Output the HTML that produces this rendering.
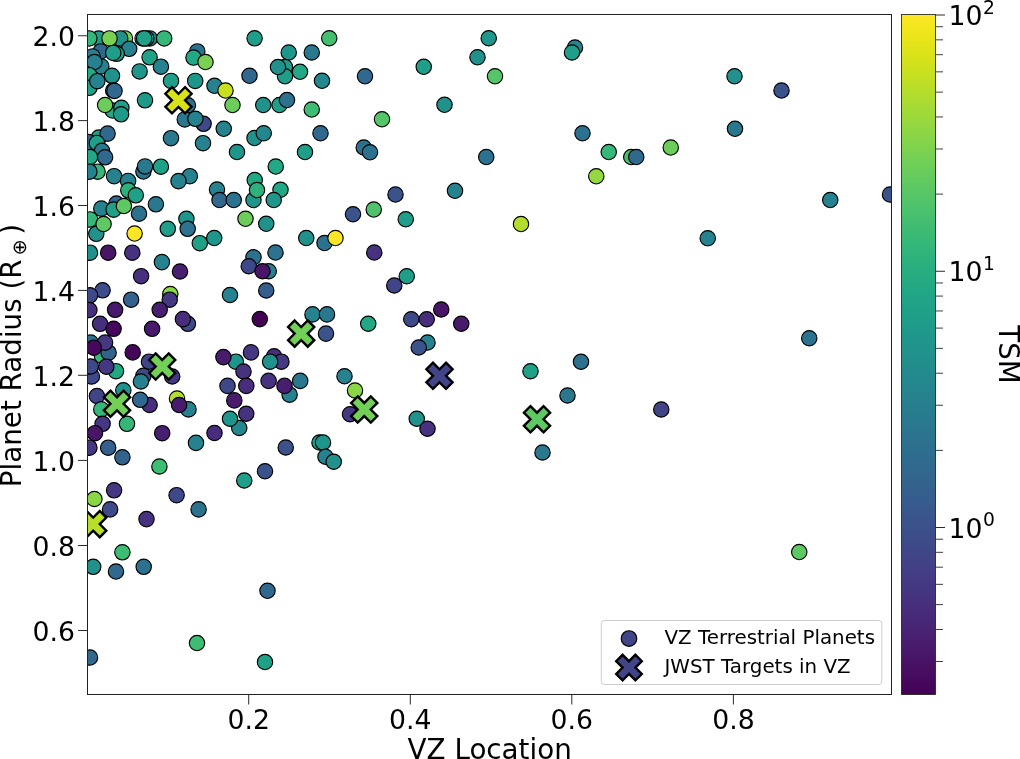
<!DOCTYPE html>
<html><head><meta charset="utf-8"><title>VZ Terrestrial Planets</title>
<style>html,body{margin:0;padding:0;background:#fff}svg{display:block}text{font-family:"DejaVu Sans","Liberation Sans",sans-serif;fill:#000}</style></head><body>
<svg width="1020" height="759" viewBox="0 0 1020 759">
<defs><clipPath id="ax"><rect x="87.50" y="14.50" width="804.00" height="680.00"/></clipPath>
<linearGradient id="vir" x1="0" y1="0" x2="0" y2="1"><stop offset="0.0000" stop-color="#fde725"/><stop offset="0.0312" stop-color="#ece51b"/><stop offset="0.0625" stop-color="#d8e219"/><stop offset="0.0938" stop-color="#c2df23"/><stop offset="0.1250" stop-color="#addc30"/><stop offset="0.1562" stop-color="#98d83e"/><stop offset="0.1875" stop-color="#84d44b"/><stop offset="0.2188" stop-color="#70cf57"/><stop offset="0.2500" stop-color="#5ec962"/><stop offset="0.2812" stop-color="#4ec36b"/><stop offset="0.3125" stop-color="#3fbc73"/><stop offset="0.3438" stop-color="#32b67a"/><stop offset="0.3750" stop-color="#28ae80"/><stop offset="0.4062" stop-color="#22a785"/><stop offset="0.4375" stop-color="#1fa088"/><stop offset="0.4688" stop-color="#1f988b"/><stop offset="0.5000" stop-color="#21918c"/><stop offset="0.5312" stop-color="#23898e"/><stop offset="0.5625" stop-color="#26828e"/><stop offset="0.5938" stop-color="#297a8e"/><stop offset="0.6250" stop-color="#2c728e"/><stop offset="0.6562" stop-color="#2f6b8e"/><stop offset="0.6875" stop-color="#33638d"/><stop offset="0.7188" stop-color="#375b8d"/><stop offset="0.7500" stop-color="#3b528b"/><stop offset="0.7812" stop-color="#3e4989"/><stop offset="0.8125" stop-color="#424086"/><stop offset="0.8438" stop-color="#453781"/><stop offset="0.8750" stop-color="#472d7b"/><stop offset="0.9062" stop-color="#482374"/><stop offset="0.9375" stop-color="#48186a"/><stop offset="0.9688" stop-color="#470d60"/><stop offset="1.0000" stop-color="#440154"/></linearGradient></defs>
<rect width="1020" height="759" fill="#fff"/>
<g clip-path="url(#ax)"><g stroke="#000" stroke-width="1.15">
<circle cx="98.80" cy="38.60" r="7.70" fill="#1f9e89"/>
<circle cx="89.30" cy="38.40" r="7.70" fill="#35b779"/>
<circle cx="124.90" cy="38.40" r="7.70" fill="#7ad151"/>
<circle cx="120.20" cy="38.40" r="7.70" fill="#21918c"/>
<circle cx="109.50" cy="38.40" r="7.70" fill="#7ad151"/>
<circle cx="142.60" cy="38.40" r="7.70" fill="#1f968b"/>
<circle cx="149.80" cy="38.40" r="7.70" fill="#26828e"/>
<circle cx="146.30" cy="38.40" r="7.70" fill="#22a884"/>
<circle cx="144.20" cy="38.40" r="7.70" fill="#1fa187"/>
<circle cx="164.20" cy="38.40" r="7.70" fill="#35b779"/>
<circle cx="100.70" cy="51.40" r="7.70" fill="#31688e"/>
<circle cx="129.20" cy="48.80" r="7.70" fill="#26828e"/>
<circle cx="116.70" cy="53.80" r="7.70" fill="#1fa187"/>
<circle cx="113.20" cy="52.90" r="7.70" fill="#1f9e89"/>
<circle cx="92.50" cy="56.40" r="7.70" fill="#26828e"/>
<circle cx="101.30" cy="66.40" r="7.70" fill="#26828e"/>
<circle cx="94.40" cy="62.00" r="7.70" fill="#26828e"/>
<circle cx="89.40" cy="75.20" r="7.70" fill="#22a884"/>
<circle cx="112.00" cy="75.80" r="7.70" fill="#21918c"/>
<circle cx="89.40" cy="87.80" r="7.70" fill="#1fa187"/>
<circle cx="97.30" cy="81.20" r="7.70" fill="#26828e"/>
<circle cx="113.20" cy="90.50" r="7.70" fill="#31688e"/>
<circle cx="114.50" cy="90.90" r="7.70" fill="#31688e"/>
<circle cx="149.60" cy="57.30" r="7.70" fill="#1fa187"/>
<circle cx="160.90" cy="66.70" r="7.70" fill="#26828e"/>
<circle cx="139.60" cy="71.40" r="7.70" fill="#1f968b"/>
<circle cx="171.00" cy="80.90" r="7.70" fill="#1f9e89"/>
<circle cx="195.20" cy="80.90" r="7.70" fill="#1f968b"/>
<circle cx="197.30" cy="51.40" r="7.70" fill="#2c728e"/>
<circle cx="193.50" cy="57.60" r="7.70" fill="#22a884"/>
<circle cx="205.50" cy="62.00" r="7.70" fill="#7ad151"/>
<circle cx="145.00" cy="100.30" r="7.70" fill="#1f998a"/>
<circle cx="112.60" cy="110.50" r="7.70" fill="#22a884"/>
<circle cx="105.10" cy="105.00" r="7.70" fill="#6ccd5a"/>
<circle cx="121.40" cy="107.80" r="7.70" fill="#1fa187"/>
<circle cx="121.10" cy="114.30" r="7.70" fill="#1f998a"/>
<circle cx="187.90" cy="105.30" r="7.70" fill="#2c728e"/>
<circle cx="214.50" cy="85.75" r="7.70" fill="#26828e"/>
<circle cx="225.50" cy="90.50" r="7.70" fill="#c8e020"/>
<circle cx="232.50" cy="105.00" r="7.70" fill="#6ccd5a"/>
<circle cx="249.50" cy="75.75" r="7.70" fill="#31688e"/>
<circle cx="254.60" cy="38.30" r="7.70" fill="#1f9e89"/>
<circle cx="223.75" cy="128.75" r="7.70" fill="#26828e"/>
<circle cx="237.00" cy="152.00" r="7.70" fill="#1f968b"/>
<circle cx="254.50" cy="138.00" r="7.70" fill="#21918c"/>
<circle cx="254.75" cy="180.00" r="7.70" fill="#22a884"/>
<circle cx="217.00" cy="189.50" r="7.70" fill="#26828e"/>
<circle cx="184.80" cy="119.40" r="7.70" fill="#2a788e"/>
<circle cx="203.60" cy="123.80" r="7.70" fill="#3e4989"/>
<circle cx="195.40" cy="118.80" r="7.70" fill="#26828e"/>
<circle cx="171.00" cy="138.20" r="7.70" fill="#2a788e"/>
<circle cx="203.00" cy="143.20" r="7.70" fill="#26828e"/>
<circle cx="98.80" cy="137.60" r="7.70" fill="#1fa187"/>
<circle cx="107.60" cy="133.60" r="7.70" fill="#31688e"/>
<circle cx="88.80" cy="142.00" r="7.70" fill="#31688e"/>
<circle cx="96.90" cy="142.90" r="7.70" fill="#1f9e89"/>
<circle cx="102.00" cy="150.80" r="7.70" fill="#2a788e"/>
<circle cx="105.10" cy="157.30" r="7.70" fill="#31688e"/>
<circle cx="90.00" cy="157.00" r="7.70" fill="#22a884"/>
<circle cx="97.60" cy="171.70" r="7.70" fill="#35b779"/>
<circle cx="89.40" cy="171.70" r="7.70" fill="#26828e"/>
<circle cx="114.10" cy="176.20" r="7.70" fill="#26828e"/>
<circle cx="128.10" cy="180.90" r="7.70" fill="#26828e"/>
<circle cx="128.30" cy="190.30" r="7.70" fill="#2db27d"/>
<circle cx="135.80" cy="195.30" r="7.70" fill="#1fa187"/>
<circle cx="143.40" cy="171.50" r="7.70" fill="#2c728e"/>
<circle cx="145.00" cy="166.40" r="7.70" fill="#2a788e"/>
<circle cx="160.90" cy="166.70" r="7.70" fill="#1fa187"/>
<circle cx="189.80" cy="176.20" r="7.70" fill="#26828e"/>
<circle cx="178.50" cy="181.10" r="7.70" fill="#26828e"/>
<circle cx="116.40" cy="203.50" r="7.70" fill="#31688e"/>
<circle cx="101.30" cy="208.60" r="7.70" fill="#26828e"/>
<circle cx="113.60" cy="209.60" r="7.70" fill="#1fa187"/>
<circle cx="123.90" cy="206.00" r="7.70" fill="#5ec962"/>
<circle cx="155.90" cy="204.30" r="7.70" fill="#2a788e"/>
<circle cx="139.00" cy="213.70" r="7.70" fill="#2c728e"/>
<circle cx="186.40" cy="218.80" r="7.70" fill="#1f968b"/>
<circle cx="187.70" cy="228.80" r="7.70" fill="#2c728e"/>
<circle cx="167.80" cy="228.80" r="7.70" fill="#1f9e89"/>
<circle cx="199.80" cy="243.20" r="7.70" fill="#1fa187"/>
<circle cx="214.25" cy="238.00" r="7.70" fill="#1f968b"/>
<circle cx="90.00" cy="219.40" r="7.70" fill="#35b779"/>
<circle cx="96.30" cy="233.80" r="7.70" fill="#21918c"/>
<circle cx="103.60" cy="224.00" r="7.70" fill="#5ec962"/>
<circle cx="134.60" cy="233.50" r="7.70" fill="#fde725"/>
<circle cx="90.00" cy="252.70" r="7.70" fill="#21918c"/>
<circle cx="108.20" cy="252.70" r="7.70" fill="#481567"/>
<circle cx="132.30" cy="252.70" r="7.70" fill="#46327e"/>
<circle cx="161.90" cy="262.10" r="7.70" fill="#26828e"/>
<circle cx="180.00" cy="271.50" r="7.70" fill="#481f70"/>
<circle cx="141.10" cy="276.20" r="7.70" fill="#46307e"/>
<circle cx="102.60" cy="290.30" r="7.70" fill="#3e4c8a"/>
<circle cx="90.00" cy="295.30" r="7.70" fill="#3e4989"/>
<circle cx="131.10" cy="299.70" r="7.70" fill="#33638d"/>
<circle cx="170.30" cy="294.10" r="7.70" fill="#8bd646"/>
<circle cx="169.70" cy="299.70" r="7.70" fill="#453781"/>
<circle cx="219.50" cy="200.00" r="7.70" fill="#31688e"/>
<circle cx="233.75" cy="200.00" r="7.70" fill="#2c728e"/>
<circle cx="253.50" cy="200.00" r="7.70" fill="#1f968b"/>
<circle cx="245.50" cy="218.75" r="7.70" fill="#6ccd5a"/>
<circle cx="253.50" cy="257.25" r="7.70" fill="#2c728e"/>
<circle cx="248.75" cy="266.25" r="7.70" fill="#3e4989"/>
<circle cx="230.00" cy="295.00" r="7.70" fill="#26828e"/>
<circle cx="89.40" cy="310.00" r="7.70" fill="#46307e"/>
<circle cx="115.10" cy="309.80" r="7.70" fill="#481a6c"/>
<circle cx="159.70" cy="309.80" r="7.70" fill="#481f70"/>
<circle cx="187.90" cy="323.80" r="7.70" fill="#3e4989"/>
<circle cx="182.90" cy="319.10" r="7.70" fill="#472d7b"/>
<circle cx="100.10" cy="323.80" r="7.70" fill="#46307e"/>
<circle cx="113.60" cy="328.80" r="7.70" fill="#46085c"/>
<circle cx="152.10" cy="328.80" r="7.70" fill="#481a6c"/>
<circle cx="102.00" cy="356.00" r="7.70" fill="#35b779"/>
<circle cx="90.70" cy="342.60" r="7.70" fill="#2c728e"/>
<circle cx="108.60" cy="352.70" r="7.70" fill="#33638d"/>
<circle cx="105.10" cy="342.60" r="7.70" fill="#453781"/>
<circle cx="93.80" cy="347.70" r="7.70" fill="#46085c"/>
<circle cx="132.70" cy="352.40" r="7.70" fill="#450559"/>
<circle cx="91.90" cy="376.50" r="7.70" fill="#3e4989"/>
<circle cx="90.70" cy="366.50" r="7.70" fill="#3e4989"/>
<circle cx="116.00" cy="371.20" r="7.70" fill="#22a884"/>
<circle cx="106.30" cy="366.70" r="7.70" fill="#453781"/>
<circle cx="149.00" cy="361.70" r="7.70" fill="#414487"/>
<circle cx="172.20" cy="376.50" r="7.70" fill="#453781"/>
<circle cx="143.40" cy="375.90" r="7.70" fill="#3e4989"/>
<circle cx="140.90" cy="381.50" r="7.70" fill="#26828e"/>
<circle cx="123.30" cy="390.30" r="7.70" fill="#21918c"/>
<circle cx="96.90" cy="396.00" r="7.70" fill="#414487"/>
<circle cx="259.80" cy="319.10" r="7.70" fill="#440154"/>
<circle cx="312.50" cy="314.40" r="7.70" fill="#26828e"/>
<circle cx="327.00" cy="314.40" r="7.70" fill="#2a788e"/>
<circle cx="326.00" cy="333.60" r="7.70" fill="#3b528b"/>
<circle cx="235.90" cy="361.70" r="7.70" fill="#1f968b"/>
<circle cx="223.40" cy="357.10" r="7.70" fill="#481b6d"/>
<circle cx="251.00" cy="352.40" r="7.70" fill="#453781"/>
<circle cx="243.50" cy="371.50" r="7.70" fill="#46327e"/>
<circle cx="274.10" cy="356.40" r="7.70" fill="#472d7b"/>
<circle cx="281.40" cy="361.70" r="7.70" fill="#453781"/>
<circle cx="270.10" cy="361.70" r="7.70" fill="#21918c"/>
<circle cx="227.50" cy="385.90" r="7.70" fill="#3e4989"/>
<circle cx="246.30" cy="385.90" r="7.70" fill="#472d7b"/>
<circle cx="268.60" cy="380.90" r="7.70" fill="#46327e"/>
<circle cx="300.20" cy="380.90" r="7.70" fill="#2a788e"/>
<circle cx="289.60" cy="394.70" r="7.70" fill="#26828e"/>
<circle cx="284.50" cy="385.90" r="7.70" fill="#481f70"/>
<circle cx="234.30" cy="400.40" r="7.70" fill="#481b6d"/>
<circle cx="101.30" cy="409.40" r="7.70" fill="#35b779"/>
<circle cx="149.60" cy="405.00" r="7.70" fill="#472d7b"/>
<circle cx="140.20" cy="399.80" r="7.70" fill="#31688e"/>
<circle cx="177.00" cy="398.50" r="7.70" fill="#b2dd2d"/>
<circle cx="188.50" cy="409.40" r="7.70" fill="#26828e"/>
<circle cx="179.10" cy="405.00" r="7.70" fill="#481b6d"/>
<circle cx="102.60" cy="423.80" r="7.70" fill="#453781"/>
<circle cx="127.00" cy="423.80" r="7.70" fill="#35b779"/>
<circle cx="95.00" cy="433.20" r="7.70" fill="#481567"/>
<circle cx="162.20" cy="433.20" r="7.70" fill="#481f70"/>
<circle cx="89.40" cy="447.70" r="7.70" fill="#453781"/>
<circle cx="108.20" cy="447.70" r="7.70" fill="#355f8d"/>
<circle cx="122.40" cy="457.30" r="7.70" fill="#33638d"/>
<circle cx="196.00" cy="442.90" r="7.70" fill="#26828e"/>
<circle cx="214.50" cy="433.00" r="7.70" fill="#472d7b"/>
<circle cx="159.40" cy="466.50" r="7.70" fill="#3dbc74"/>
<circle cx="114.10" cy="490.30" r="7.70" fill="#453781"/>
<circle cx="94.40" cy="499.00" r="7.70" fill="#8bd646"/>
<circle cx="176.60" cy="495.20" r="7.70" fill="#3e4989"/>
<circle cx="246.25" cy="413.75" r="7.70" fill="#46327e"/>
<circle cx="239.25" cy="428.00" r="7.70" fill="#23888e"/>
<circle cx="230.00" cy="418.75" r="7.70" fill="#1f968b"/>
<circle cx="244.25" cy="480.50" r="7.70" fill="#1f9e89"/>
<circle cx="110.10" cy="509.40" r="7.70" fill="#3e4989"/>
<circle cx="198.60" cy="509.40" r="7.70" fill="#2c728e"/>
<circle cx="146.50" cy="519.10" r="7.70" fill="#46327e"/>
<circle cx="122.40" cy="552.30" r="7.70" fill="#3dbc74"/>
<circle cx="93.20" cy="566.80" r="7.70" fill="#21918c"/>
<circle cx="116.00" cy="571.50" r="7.70" fill="#31688e"/>
<circle cx="143.70" cy="566.80" r="7.70" fill="#2c728e"/>
<circle cx="90.00" cy="657.50" r="7.70" fill="#31688e"/>
<circle cx="197.00" cy="643.00" r="7.70" fill="#3dbc74"/>
<circle cx="267.50" cy="590.75" r="7.70" fill="#31688e"/>
<circle cx="265.00" cy="662.00" r="7.70" fill="#1fa187"/>
<circle cx="329.25" cy="38.25" r="7.70" fill="#44bf70"/>
<circle cx="288.75" cy="52.50" r="7.70" fill="#1f968b"/>
<circle cx="311.75" cy="52.50" r="7.70" fill="#2a788e"/>
<circle cx="285.00" cy="67.00" r="7.70" fill="#1f9e89"/>
<circle cx="285.00" cy="76.25" r="7.70" fill="#1f9e89"/>
<circle cx="278.00" cy="67.00" r="7.70" fill="#21918c"/>
<circle cx="300.00" cy="71.75" r="7.70" fill="#22a884"/>
<circle cx="322.00" cy="80.75" r="7.70" fill="#23888e"/>
<circle cx="365.00" cy="76.25" r="7.70" fill="#31688e"/>
<circle cx="423.75" cy="66.75" r="7.70" fill="#1f9e89"/>
<circle cx="488.75" cy="38.25" r="7.70" fill="#1f968b"/>
<circle cx="477.50" cy="57.25" r="7.70" fill="#21918c"/>
<circle cx="495.00" cy="76.25" r="7.70" fill="#54c568"/>
<circle cx="444.50" cy="104.75" r="7.70" fill="#21918c"/>
<circle cx="382.00" cy="119.25" r="7.70" fill="#54c568"/>
<circle cx="263.25" cy="105.00" r="7.70" fill="#21918c"/>
<circle cx="279.50" cy="105.00" r="7.70" fill="#1f9e89"/>
<circle cx="287.00" cy="100.00" r="7.70" fill="#2c728e"/>
<circle cx="311.75" cy="109.50" r="7.70" fill="#3dbc74"/>
<circle cx="263.75" cy="133.25" r="7.70" fill="#23888e"/>
<circle cx="320.50" cy="133.25" r="7.70" fill="#31688e"/>
<circle cx="305.00" cy="152.00" r="7.70" fill="#1f9e89"/>
<circle cx="363.75" cy="147.50" r="7.70" fill="#2c728e"/>
<circle cx="370.00" cy="152.25" r="7.70" fill="#2c728e"/>
<circle cx="486.25" cy="157.00" r="7.70" fill="#2c728e"/>
<circle cx="275.75" cy="166.50" r="7.70" fill="#22a884"/>
<circle cx="257.00" cy="190.00" r="7.70" fill="#2db27d"/>
<circle cx="280.50" cy="189.75" r="7.70" fill="#22a884"/>
<circle cx="395.50" cy="194.50" r="7.70" fill="#3b528b"/>
<circle cx="455.00" cy="190.75" r="7.70" fill="#26828e"/>
<circle cx="273.75" cy="200.00" r="7.70" fill="#1f968b"/>
<circle cx="373.75" cy="209.50" r="7.70" fill="#4ec36b"/>
<circle cx="353.00" cy="214.25" r="7.70" fill="#3b528b"/>
<circle cx="405.75" cy="219.25" r="7.70" fill="#1f9e89"/>
<circle cx="266.25" cy="223.75" r="7.70" fill="#21918c"/>
<circle cx="306.25" cy="238.00" r="7.70" fill="#21918c"/>
<circle cx="324.50" cy="243.00" r="7.70" fill="#2c728e"/>
<circle cx="335.50" cy="238.00" r="7.70" fill="#fde725"/>
<circle cx="374.25" cy="252.50" r="7.70" fill="#46327e"/>
<circle cx="275.50" cy="252.50" r="7.70" fill="#2c728e"/>
<circle cx="268.75" cy="271.25" r="7.70" fill="#26828e"/>
<circle cx="262.50" cy="271.25" r="7.70" fill="#481567"/>
<circle cx="266.25" cy="290.50" r="7.70" fill="#355f8d"/>
<circle cx="406.75" cy="276.25" r="7.70" fill="#1f9e89"/>
<circle cx="394.25" cy="285.50" r="7.70" fill="#414487"/>
<circle cx="368.25" cy="323.75" r="7.70" fill="#22a884"/>
<circle cx="411.25" cy="319.25" r="7.70" fill="#3e4989"/>
<circle cx="426.75" cy="319.25" r="7.70" fill="#472d7b"/>
<circle cx="441.25" cy="309.50" r="7.70" fill="#481467"/>
<circle cx="461.25" cy="323.75" r="7.70" fill="#481a6c"/>
<circle cx="427.50" cy="342.50" r="7.70" fill="#26828e"/>
<circle cx="418.75" cy="347.50" r="7.70" fill="#3b528b"/>
<circle cx="344.50" cy="376.25" r="7.70" fill="#26828e"/>
<circle cx="355.00" cy="390.50" r="7.70" fill="#8bd646"/>
<circle cx="350.00" cy="414.25" r="7.70" fill="#453781"/>
<circle cx="416.75" cy="418.75" r="7.70" fill="#21918c"/>
<circle cx="427.50" cy="428.75" r="7.70" fill="#46327e"/>
<circle cx="285.75" cy="447.50" r="7.70" fill="#3b528b"/>
<circle cx="319.50" cy="442.50" r="7.70" fill="#1fa187"/>
<circle cx="323.00" cy="442.50" r="7.70" fill="#1f968b"/>
<circle cx="325.50" cy="456.75" r="7.70" fill="#26828e"/>
<circle cx="333.75" cy="461.75" r="7.70" fill="#21918c"/>
<circle cx="265.00" cy="471.25" r="7.70" fill="#3b528b"/>
<circle cx="575.00" cy="47.50" r="7.70" fill="#26828e"/>
<circle cx="572.00" cy="52.50" r="7.70" fill="#1f9e89"/>
<circle cx="734.50" cy="76.25" r="7.70" fill="#21918c"/>
<circle cx="735.00" cy="128.75" r="7.70" fill="#2a788e"/>
<circle cx="582.50" cy="133.25" r="7.70" fill="#2c728e"/>
<circle cx="608.75" cy="152.00" r="7.70" fill="#35b779"/>
<circle cx="631.25" cy="157.00" r="7.70" fill="#44bf70"/>
<circle cx="636.25" cy="157.00" r="7.70" fill="#31688e"/>
<circle cx="670.75" cy="147.50" r="7.70" fill="#6ccd5a"/>
<circle cx="596.25" cy="176.25" r="7.70" fill="#95d840"/>
<circle cx="781.50" cy="90.50" r="7.70" fill="#3b528b"/>
<circle cx="890.00" cy="194.50" r="7.70" fill="#3b528b"/>
<circle cx="521.00" cy="224.00" r="7.70" fill="#b2dd2d"/>
<circle cx="707.75" cy="238.25" r="7.70" fill="#26828e"/>
<circle cx="581.00" cy="361.75" r="7.70" fill="#2c728e"/>
<circle cx="530.50" cy="371.25" r="7.70" fill="#1fa187"/>
<circle cx="830.25" cy="200.00" r="7.70" fill="#26828e"/>
<circle cx="809.25" cy="338.25" r="7.70" fill="#2c728e"/>
<circle cx="567.50" cy="395.50" r="7.70" fill="#2a788e"/>
<circle cx="661.25" cy="409.50" r="7.70" fill="#414487"/>
<circle cx="542.50" cy="452.50" r="7.70" fill="#2a788e"/>
<circle cx="799.25" cy="552.00" r="7.70" fill="#5ec962"/>
</g><g stroke="#000" stroke-width="2.40" stroke-linejoin="miter">
<path d="M171.95 87.20 L178.50 93.75 L185.05 87.20 L191.60 93.75 L185.05 100.30 L191.60 106.85 L185.05 113.40 L178.50 106.85 L171.95 113.40 L165.40 106.85 L171.95 100.30 L165.40 93.75Z" fill="#d8e219"/>
<path d="M155.65 353.40 L162.20 359.95 L168.75 353.40 L175.30 359.95 L168.75 366.50 L175.30 373.05 L168.75 379.60 L162.20 373.05 L155.65 379.60 L149.10 373.05 L155.65 366.50 L149.10 359.95Z" fill="#73d056"/>
<path d="M110.45 390.70 L117.00 397.25 L123.55 390.70 L130.10 397.25 L123.55 403.80 L130.10 410.35 L123.55 416.90 L117.00 410.35 L110.45 416.90 L103.90 410.35 L110.45 403.80 L103.90 397.25Z" fill="#73d056"/>
<path d="M86.65 511.00 L93.20 517.55 L99.75 511.00 L106.30 517.55 L99.75 524.10 L106.30 530.65 L99.75 537.20 L93.20 530.65 L86.65 537.20 L80.10 530.65 L86.65 524.10 L80.10 517.55Z" fill="#b8de29"/>
<path d="M294.65 320.50 L301.20 327.05 L307.75 320.50 L314.30 327.05 L307.75 333.60 L314.30 340.15 L307.75 346.70 L301.20 340.15 L294.65 346.70 L288.10 340.15 L294.65 333.60 L288.10 327.05Z" fill="#73d056"/>
<path d="M432.95 362.70 L439.50 369.25 L446.05 362.70 L452.60 369.25 L446.05 375.80 L452.60 382.35 L446.05 388.90 L439.50 382.35 L432.95 388.90 L426.40 382.35 L432.95 375.80 L426.40 369.25Z" fill="#414487"/>
<path d="M357.70 396.40 L364.25 402.95 L370.80 396.40 L377.35 402.95 L370.80 409.50 L377.35 416.05 L370.80 422.60 L364.25 416.05 L357.70 422.60 L351.15 416.05 L357.70 409.50 L351.15 402.95Z" fill="#73d056"/>
<path d="M530.45 406.15 L537.00 412.70 L543.55 406.15 L550.10 412.70 L543.55 419.25 L550.10 425.80 L543.55 432.35 L537.00 425.80 L530.45 432.35 L523.90 425.80 L530.45 419.25 L523.90 412.70Z" fill="#5ec962"/>
</g></g>
<rect x="87.50" y="14.50" width="804.00" height="680.00" fill="none" stroke="#222" stroke-width="1"/>
<g stroke="#2a2a2a" stroke-width="1">
<line x1="78.00" y1="35.75" x2="87.50" y2="35.75"/>
<line x1="78.00" y1="120.60" x2="87.50" y2="120.60"/>
<line x1="78.00" y1="205.50" x2="87.50" y2="205.50"/>
<line x1="78.00" y1="290.40" x2="87.50" y2="290.40"/>
<line x1="78.00" y1="375.30" x2="87.50" y2="375.30"/>
<line x1="78.00" y1="460.40" x2="87.50" y2="460.40"/>
<line x1="78.00" y1="545.50" x2="87.50" y2="545.50"/>
<line x1="78.00" y1="630.50" x2="87.50" y2="630.50"/>
<line x1="248.70" y1="694.50" x2="248.70" y2="704.50"/>
<line x1="410.30" y1="694.50" x2="410.30" y2="704.50"/>
<line x1="571.80" y1="694.50" x2="571.80" y2="704.50"/>
<line x1="733.40" y1="694.50" x2="733.40" y2="704.50"/>
</g>
<g font-size="26.70">
<text x="75" y="46.05" text-anchor="end">2.0</text>
<text x="75" y="130.90" text-anchor="end">1.8</text>
<text x="75" y="215.80" text-anchor="end">1.6</text>
<text x="75" y="300.70" text-anchor="end">1.4</text>
<text x="75" y="385.60" text-anchor="end">1.2</text>
<text x="75" y="470.70" text-anchor="end">1.0</text>
<text x="75" y="555.80" text-anchor="end">0.8</text>
<text x="75" y="640.80" text-anchor="end">0.6</text>
<text x="248.70" y="728.8" text-anchor="middle">0.2</text>
<text x="410.30" y="728.8" text-anchor="middle">0.4</text>
<text x="571.80" y="728.8" text-anchor="middle">0.6</text>
<text x="733.40" y="728.8" text-anchor="middle">0.8</text>
</g>
<text x="489.7" y="759.4" font-size="27.75" text-anchor="middle">VZ Location</text>
<text transform="translate(21.4 487.2) rotate(-90)" font-size="27.75">Planet Radius (R<tspan font-size="19.4" dy="4.3" dx="3.9">⊕</tspan><tspan dy="-4.3" dx="4.6">)</tspan></text>
<rect x="901.50" y="14.50" width="34.00" height="680.00" fill="url(#vir)" stroke="#222" stroke-width="0.85"/>
<g stroke="#2a2a2a" stroke-width="1">
<line x1="935.50" y1="15.00" x2="945.00" y2="15.00"/>
<line x1="935.50" y1="271.25" x2="945.00" y2="271.25"/>
<line x1="935.50" y1="527.50" x2="945.00" y2="527.50"/>
</g><g stroke="#2a2a2a" stroke-width="0.9">
<line x1="935.50" y1="194.11" x2="943.00" y2="194.11"/>
<line x1="935.50" y1="148.99" x2="943.00" y2="148.99"/>
<line x1="935.50" y1="116.97" x2="943.00" y2="116.97"/>
<line x1="935.50" y1="92.14" x2="943.00" y2="92.14"/>
<line x1="935.50" y1="71.85" x2="943.00" y2="71.85"/>
<line x1="935.50" y1="54.69" x2="943.00" y2="54.69"/>
<line x1="935.50" y1="39.83" x2="943.00" y2="39.83"/>
<line x1="935.50" y1="26.73" x2="943.00" y2="26.73"/>
<line x1="935.50" y1="450.36" x2="943.00" y2="450.36"/>
<line x1="935.50" y1="405.24" x2="943.00" y2="405.24"/>
<line x1="935.50" y1="373.22" x2="943.00" y2="373.22"/>
<line x1="935.50" y1="348.39" x2="943.00" y2="348.39"/>
<line x1="935.50" y1="328.10" x2="943.00" y2="328.10"/>
<line x1="935.50" y1="310.94" x2="943.00" y2="310.94"/>
<line x1="935.50" y1="296.08" x2="943.00" y2="296.08"/>
<line x1="935.50" y1="282.98" x2="943.00" y2="282.98"/>
<line x1="935.50" y1="661.49" x2="943.00" y2="661.49"/>
<line x1="935.50" y1="629.47" x2="943.00" y2="629.47"/>
<line x1="935.50" y1="604.64" x2="943.00" y2="604.64"/>
<line x1="935.50" y1="584.35" x2="943.00" y2="584.35"/>
<line x1="935.50" y1="567.19" x2="943.00" y2="567.19"/>
<line x1="935.50" y1="552.33" x2="943.00" y2="552.33"/>
<line x1="935.50" y1="539.23" x2="943.00" y2="539.23"/>
</g>
<text x="948.6" y="25.00" font-size="26.70">10<tspan font-size="18.7" dy="-11.1" dx="0.5">2</tspan></text>
<text x="948.6" y="281.25" font-size="26.70">10<tspan font-size="18.7" dy="-11.1" dx="0.5">1</tspan></text>
<text x="948.6" y="537.50" font-size="26.70">10<tspan font-size="18.7" dy="-11.1" dx="0.5">0</tspan></text>
<text transform="translate(999.3 354.5) rotate(90)" font-size="27.75" text-anchor="middle">TSM</text>
<rect x="601.3" y="620.5" width="280.5" height="64" rx="3" ry="3" fill="#fff" fill-opacity="0.8" stroke="#ccc" stroke-width="1"/>
<circle cx="629" cy="638.5" r="7.8" fill="#414487" stroke="#000" stroke-width="1.15"/>
<path d="M622.60 654.80 L629.00 661.20 L635.40 654.80 L641.80 661.20 L635.40 667.60 L641.80 674.00 L635.40 680.40 L629.00 674.00 L622.60 680.40 L616.20 674.00 L622.60 667.60 L616.20 661.20Z" fill="#414487" stroke="#000" stroke-width="2.40"/>
<text x="664.5" y="644" font-size="19.85">VZ Terrestrial Planets</text>
<text x="664.5" y="673" font-size="19.85">JWST Targets in VZ</text>
</svg></body></html>
